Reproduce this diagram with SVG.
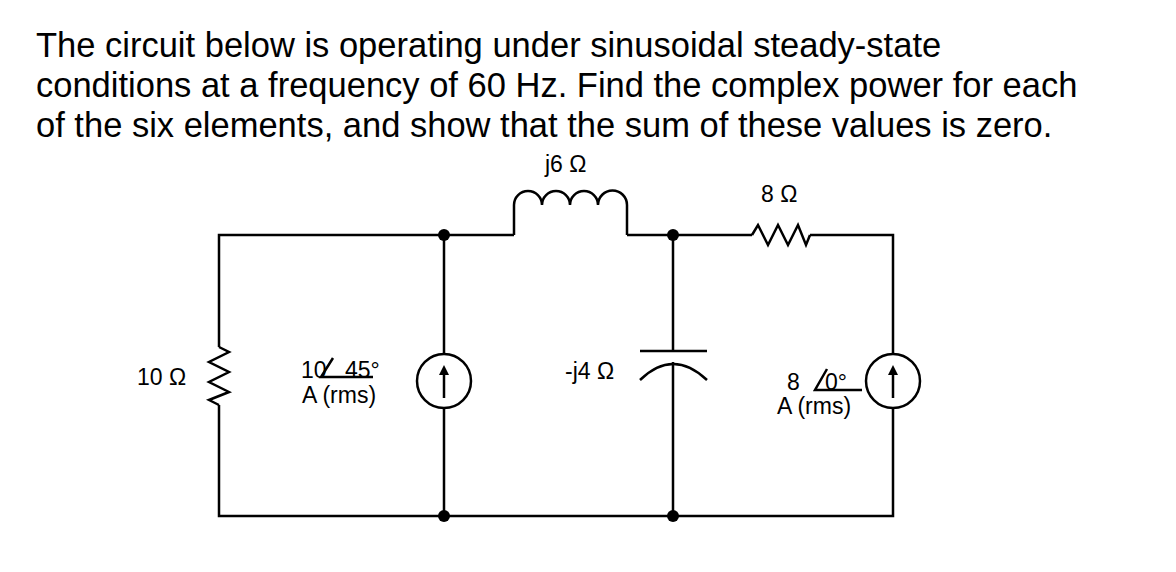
<svg xmlns="http://www.w3.org/2000/svg" width="1176" height="572" viewBox="0 0 1176 572">
<style>
.w{fill:none;stroke:#000;stroke-width:2.5}
.t{font-family:"Liberation Sans",Arial,sans-serif;fill:#000}
.h{font-size:34.5px}
.l{font-size:23px}
</style>
<defs><marker id="ar" viewBox="0 0 10 10" refX="5" refY="5" markerWidth="4" markerHeight="4" orient="auto"><path d="M0,0L10,5L0,10z" fill="#000"/></marker></defs>
<rect width="1176" height="572" fill="#fff"/>
<g id="title" class="t h">
<text x="36" y="57">The circuit below is operating under sinusoidal steady-state</text>
<text x="36" y="97">conditions at a frequency of 60 Hz.  Find the complex power for each</text>
<text x="36" y="137">of the six elements, and show that the sum of these values is zero.</text>
</g>
<g id="wires" class="w">
<path d="M219,347V235H514M627,235H752M810,235H893V353M893,409V516H219V405"/>
<path d="M444,235V353M444,409V516M673,235V351M673,362V516"/>
</g>
<g id="R10"><path class="w" d="M219,347L229,352L209,362L229,372L209,382L229,392L209,400L219,405"/><text class="t l" x="137" y="385">10 Ω</text></g>
<g id="I1"><circle class="w" cx="444" cy="381" r="27"/><path class="w" d="M444,398V370" marker-end="url(#ar)"/>
<text class="t l" x="301" y="378">10</text><path class="w" stroke-width="1.5" d="M333,358L321,377H373"/><text class="t l" x="345" y="378">45°</text><text class="t l" x="302" y="403">A (rms)</text></g>
<g id="L"><path class="w" d="M514,235V205A14,14 0 0 1 542,205A14,14 0 0 1 570,205A14,14 0 0 1 598,205A14,14 0 0 1 627,205V235"/><text class="t l" x="545" y="172">j6 Ω</text></g>
<g id="C"><path class="w" d="M640,351H707M640,380Q673,348 707,380"/><text class="t l" x="565" y="379">-j4 Ω</text></g>
<g id="R8"><path class="w" d="M752,235L758,225L768,245L778,225L788,245L798,225L806,245L810,235"/><text class="t l" x="761" y="202">8 Ω</text></g>
<g id="I2"><circle class="w" cx="893" cy="381" r="27"/><path class="w" d="M893,398V370" marker-end="url(#ar)"/>
<text class="t l" x="787" y="390">8</text><path class="w" stroke-width="1.5" d="M827,369L815,390H862"/><text class="t l" x="825" y="390">0°</text><text class="t l" x="777" y="414">A (rms)</text></g>
<g id="nodes"><circle cx="444" cy="235" r="6"/><circle cx="673" cy="235" r="6"/><circle cx="444" cy="516" r="6"/><circle cx="673" cy="516" r="6"/></g>
</svg>
